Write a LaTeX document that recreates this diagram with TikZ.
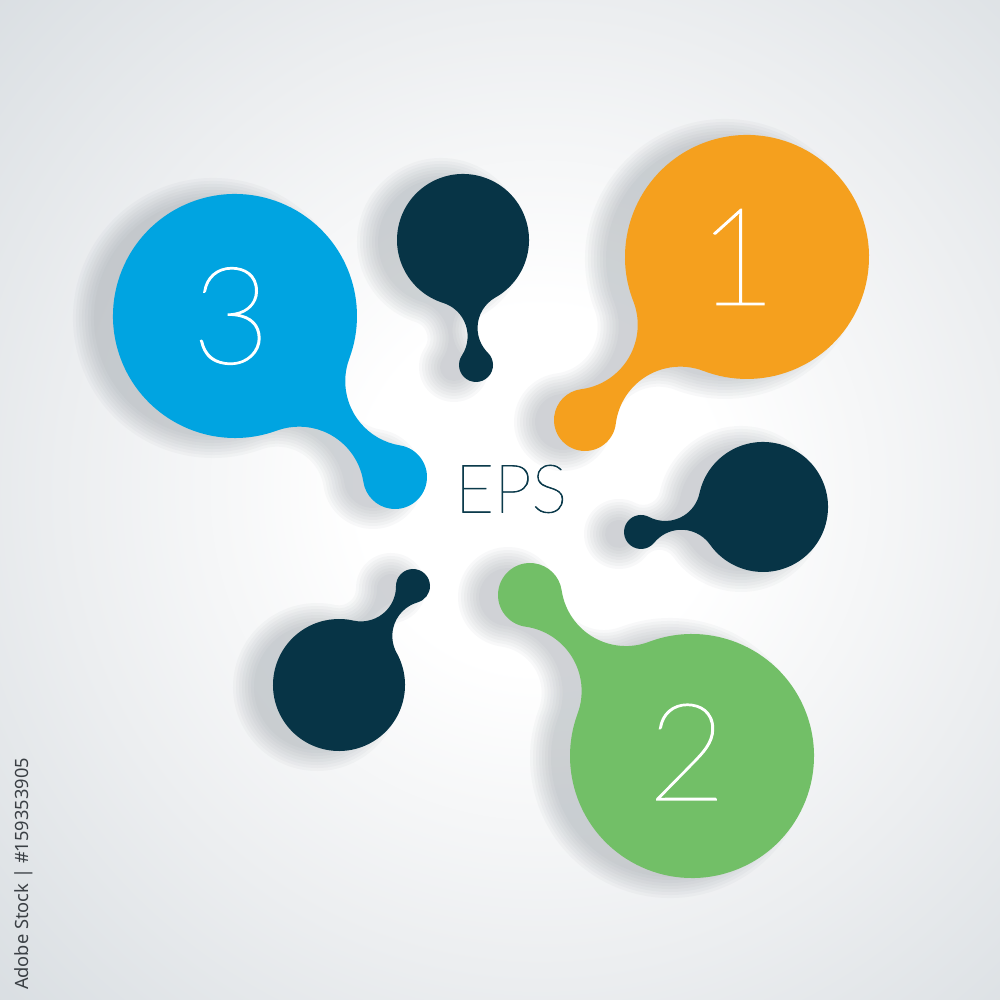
\documentclass[tikz,border=0pt]{standalone}
\usepackage{fontspec}
\newfontfamily\thinf{Lato Hairline}[FakeBold=1]
\newfontfamily\wmf{Noto Sans}
\definecolor{orangec}{HTML}{F5A01E}
\definecolor{bluec}{HTML}{00A4E1}
\definecolor{greenc}{HTML}{72BF67}
\definecolor{navyc}{HTML}{073446}
\definecolor{epsc}{HTML}{0B3A4B}
\definecolor{bgmid}{HTML}{ECEEF0}
\definecolor{bgout}{HTML}{D9DEE2}
\definecolor{shadowc}{HTML}{7F8890}
\definecolor{wmc}{HTML}{3A3F44}
\pgfdeclareradialshading{bgshade}{\pgfpoint{0bp}{0bp}}{color(0bp)=(white); color(6bp)=(white); color(16bp)=(bgmid); color(25bp)=(bgout); color(50bp)=(bgout)}
% geometry of a metaball: big circle B (radius R), small circle S (radius r), fillet radius f; all in image px
\newcommand\blobcalc[7]{%
 \pgfmathsetmacro\qBx{(#1)/100}%
 \pgfmathsetmacro\qBy{10-(#2)/100}%
 \pgfmathsetmacro\qR{(#3)/100}%
 \pgfmathsetmacro\qSx{(#4)/100}%
 \pgfmathsetmacro\qSy{10-(#5)/100}%
 \pgfmathsetmacro\qr{(#6)/100}%
 \pgfmathsetmacro\qf{(#7)/100}%
 \pgfmathsetmacro\qd{veclen(\qSx-\qBx,\qSy-\qBy)}%
 \pgfmathsetmacro\qang{atan2(\qSy-\qBy,\qSx-\qBx)}%
 \pgfmathsetmacro\qa{\qR+\qf}%
 \pgfmathsetmacro\qb{\qr+\qf}%
 \pgfmathsetmacro\qx{(\qa*\qa-\qb*\qb+\qd*\qd)/(2*\qd)}%
 \pgfmathsetmacro\qh{sqrt(\qa*\qa-\qx*\qx)}%
 \pgfmathsetmacro\qphi{atan2(\qh,\qx)}%
 \pgfmathsetmacro\qpsi{atan2(\qh,\qx-\qd)}%
}
\newcommand\blobshape{([shift={(\qBx,\qBy)}]\qang+\qphi:\qR)
 arc[start angle=\qang+\qphi+180, end angle=\qang+\qpsi+180, radius=\qf]
 arc[start angle=\qang+\qpsi, end angle=\qang-\qpsi, radius=\qr]
 arc[start angle=\qang+180-\qpsi, end angle=\qang+180-\qphi, radius=\qf]
 arc[start angle=\qang-\qphi, end angle=\qang+\qphi-360, radius=\qR] -- cycle}
% soft shadow: stack of offset (grown) copies of the blob
\newcommand\blobshadow[7]{%
 \foreach \e in {-3,0,...,18}{\blobcalc{#1}{#2}{#3+\e}{#4}{#5}{#6+\e}{#7-\e}\fill[shadowlayer] \blobshape;}}
\newcommand\blobfill[8]{\blobcalc{#2}{#3}{#4}{#5}{#6}{#7}{#8}%
 \fill[#1] \blobshape;}
\tikzset{
 shadowlayer/.style={fill=shadowc, fill opacity=0.05, shift={(-0.22,-0.02)}},
 numtxt/.style={text=white, inner sep=0pt, font=\thinf\fontsize{38.5pt}{40pt}\selectfont},
 epstxt/.style={text=epsc, inner sep=0pt, font=\thinf\fontsize{19.1pt}{20pt}\selectfont},
 wmtxt/.style={text=wmc, inner sep=0pt, font=\wmf\fontsize{5.2pt}{6pt}\selectfont}
}
\begin{document}
\begin{tikzpicture}[x=1cm,y=1cm]
\useasboundingbox (0,0) rectangle (10,10);
\begin{scope}
\clip (0,0) rectangle (10,10);
\shade[shading=bgshade] (5.4,5.1) circle (7.5);
% shadows
\blobshadow{747}{257}{122}{585}{420}{31}{65}
\blobshadow{235}{316}{122}{395}{477}{32}{65}
\blobshadow{692}{756}{122}{530}{595}{32}{65}
\blobshadow{463}{240}{66}{476}{365}{17}{35}
\blobshadow{763}{507}{65}{641}{532}{17}{35}
\blobshadow{339}{685}{66}{413}{586}{17}{35}
\end{scope}
% blobs
\blobfill{orangec}{747}{257}{122}{585}{420}{31}{65}
\blobfill{bluec}{235}{316}{122}{395}{477}{32}{65}
\blobfill{greenc}{692}{756}{122}{530}{595}{32}{65}
\blobfill{navyc}{463}{240}{66}{476}{365}{17}{35}
\blobfill{navyc}{763}{507}{65}{641}{532}{17}{35}
\blobfill{navyc}{339}{685}{66}{413}{586}{17}{35}
% texts
\node[numtxt] (n1) at (7.37,7.43) {1};
\node[numtxt] (n3) at (2.31,6.84) {3};
\node[numtxt] (n2) at (6.87,2.48) {2};
\node[epstxt] (eps) at (5.11,5.11) {EPS};
\node[wmtxt, rotate=90] (wm) at (0.235,1.26) {Adobe Stock | \#159353905};
\end{tikzpicture}
\end{document}
